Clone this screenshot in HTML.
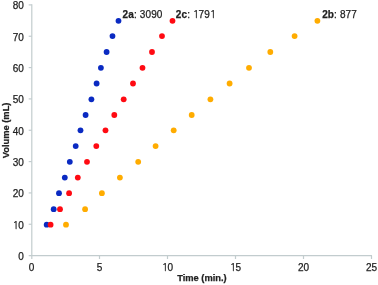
<!DOCTYPE html>
<html><head><meta charset="utf-8"><style>
html,body{margin:0;padding:0;background:#fff;width:378px;height:285px;overflow:hidden}
svg{display:block}
text{font-family:"Liberation Sans",Arial,sans-serif;font-size:10px;fill:#222;stroke:#222;stroke-width:0.25px}
.b{font-weight:bold}
.n{font-family:"NanumGothic","Liberation Sans",sans-serif;letter-spacing:-0.5px}
</style></head><body>
<svg width="378" height="285" viewBox="0 0 378 285">
<g stroke="#c2ccce" stroke-width="1.2" fill="none">
<line x1="31.8" y1="4.300000000000001" x2="31.8" y2="259"/>
<line x1="28.7" y1="255.6" x2="372.0" y2="255.6"/>
<line x1="28.7" y1="224.26" x2="31.8" y2="224.26"/>
<line x1="28.7" y1="192.93" x2="31.8" y2="192.93"/>
<line x1="28.7" y1="161.59" x2="31.8" y2="161.59"/>
<line x1="28.7" y1="130.25" x2="31.8" y2="130.25"/>
<line x1="28.7" y1="98.91" x2="31.8" y2="98.91"/>
<line x1="28.7" y1="67.58" x2="31.8" y2="67.58"/>
<line x1="28.7" y1="36.24" x2="31.8" y2="36.24"/>
<line x1="28.7" y1="4.90" x2="31.8" y2="4.90"/>
<line x1="99.50" y1="255.6" x2="99.50" y2="259"/>
<line x1="167.50" y1="255.6" x2="167.50" y2="259"/>
<line x1="235.50" y1="255.6" x2="235.50" y2="259"/>
<line x1="303.50" y1="255.6" x2="303.50" y2="259"/>
<line x1="371.50" y1="255.6" x2="371.50" y2="259"/>
</g>
<text x="23.9" y="259.90" text-anchor="end">0</text>
<text x="23.9" y="228.56" text-anchor="end"><tspan class="n">1</tspan>0</text>
<text x="23.9" y="197.23" text-anchor="end">20</text>
<text x="23.9" y="165.89" text-anchor="end">30</text>
<text x="23.9" y="134.55" text-anchor="end">40</text>
<text x="23.9" y="103.21" text-anchor="end">50</text>
<text x="23.9" y="71.88" text-anchor="end">60</text>
<text x="23.9" y="40.54" text-anchor="end">70</text>
<text x="23.9" y="9.20" text-anchor="end">80</text>
<text x="31.50" y="270.6" text-anchor="middle">0</text>
<text x="99.50" y="270.6" text-anchor="middle">5</text>
<text x="167.50" y="270.6" text-anchor="middle"><tspan class="n">1</tspan>0</text>
<text x="235.50" y="270.6" text-anchor="middle"><tspan class="n">1</tspan>5</text>
<text x="303.50" y="270.6" text-anchor="middle">20</text>
<text x="371.50" y="270.6" text-anchor="middle">25</text>
<text class="b" style="font-size:9.3px" x="201.9" y="281.2" text-anchor="middle">Time (min.)</text>
<text class="b" style="font-size:9.3px" transform="translate(8.7,130.4) rotate(-90)" text-anchor="middle">Volume (mL)</text>
<circle cx="66.0" cy="224.70" r="2.9" fill="#ffac00"/>
<circle cx="85.1" cy="209.20" r="2.9" fill="#ffac00"/>
<circle cx="101.9" cy="193.20" r="2.9" fill="#ffac00"/>
<circle cx="119.9" cy="177.60" r="2.9" fill="#ffac00"/>
<circle cx="138.2" cy="161.80" r="2.9" fill="#ffac00"/>
<circle cx="155.6" cy="146.10" r="2.9" fill="#ffac00"/>
<circle cx="173.7" cy="130.30" r="2.9" fill="#ffac00"/>
<circle cx="191.7" cy="115.00" r="2.9" fill="#ffac00"/>
<circle cx="210.4" cy="99.30" r="2.9" fill="#ffac00"/>
<circle cx="229.6" cy="83.50" r="2.9" fill="#ffac00"/>
<circle cx="249.0" cy="67.80" r="2.9" fill="#ffac00"/>
<circle cx="270.3" cy="52.00" r="2.9" fill="#ffac00"/>
<circle cx="294.6" cy="36.10" r="2.9" fill="#ffac00"/>
<circle cx="317.4" cy="20.80" r="2.9" fill="#ffac00"/>
<circle cx="46.7" cy="224.70" r="2.9" fill="#0a2ac2"/>
<circle cx="53.7" cy="209.20" r="2.9" fill="#0a2ac2"/>
<circle cx="59.0" cy="193.20" r="2.9" fill="#0a2ac2"/>
<circle cx="64.8" cy="177.60" r="2.9" fill="#0a2ac2"/>
<circle cx="69.8" cy="161.80" r="2.9" fill="#0a2ac2"/>
<circle cx="75.7" cy="146.10" r="2.9" fill="#0a2ac2"/>
<circle cx="80.5" cy="130.30" r="2.9" fill="#0a2ac2"/>
<circle cx="85.6" cy="115.00" r="2.9" fill="#0a2ac2"/>
<circle cx="91.4" cy="99.30" r="2.9" fill="#0a2ac2"/>
<circle cx="96.6" cy="83.50" r="2.9" fill="#0a2ac2"/>
<circle cx="100.9" cy="67.80" r="2.9" fill="#0a2ac2"/>
<circle cx="106.6" cy="52.00" r="2.9" fill="#0a2ac2"/>
<circle cx="112.5" cy="36.10" r="2.9" fill="#0a2ac2"/>
<circle cx="118.5" cy="20.80" r="2.9" fill="#0a2ac2"/>
<circle cx="50.6" cy="224.70" r="2.9" fill="#ff0a12"/>
<circle cx="60.0" cy="209.20" r="2.9" fill="#ff0a12"/>
<circle cx="69.1" cy="193.20" r="2.9" fill="#ff0a12"/>
<circle cx="77.8" cy="177.60" r="2.9" fill="#ff0a12"/>
<circle cx="87.0" cy="161.80" r="2.9" fill="#ff0a12"/>
<circle cx="96.3" cy="146.10" r="2.9" fill="#ff0a12"/>
<circle cx="105.5" cy="130.30" r="2.9" fill="#ff0a12"/>
<circle cx="114.3" cy="115.00" r="2.9" fill="#ff0a12"/>
<circle cx="123.7" cy="99.30" r="2.9" fill="#ff0a12"/>
<circle cx="133.0" cy="83.50" r="2.9" fill="#ff0a12"/>
<circle cx="142.5" cy="67.80" r="2.9" fill="#ff0a12"/>
<circle cx="152.0" cy="52.00" r="2.9" fill="#ff0a12"/>
<circle cx="162.0" cy="36.10" r="2.9" fill="#ff0a12"/>
<circle cx="172.5" cy="20.80" r="2.9" fill="#ff0a12"/>
<text x="122.6" y="17.5" style="letter-spacing:0.12px"><tspan class="b">2a</tspan>: 3090</text>
<text x="175.8" y="17.5" style="letter-spacing:0.12px"><tspan class="b">2c</tspan>: <tspan class="n">1</tspan>79<tspan class="n">1</tspan></text>
<text x="322.2" y="17.5" style="letter-spacing:0.12px"><tspan class="b">2b</tspan>: 877</text>
</svg>
</body></html>
